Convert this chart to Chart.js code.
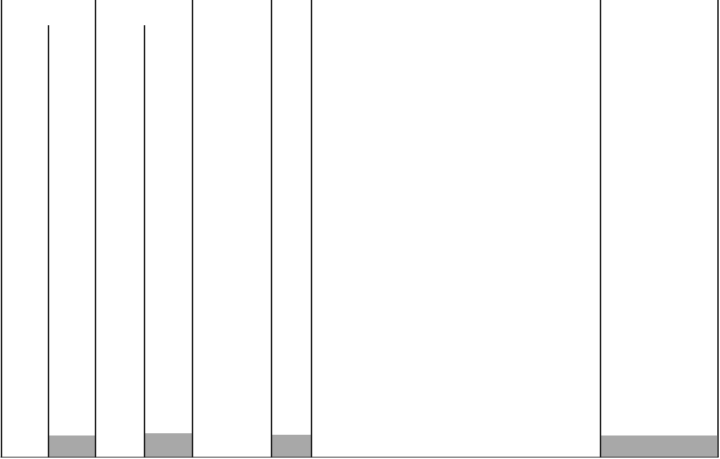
<!DOCTYPE html>
<html>
<head>
<meta charset="utf-8">
<script src="https://cdn.jsdelivr.net/npm/chart.js@4/dist/chart.umd.min.js"></script>
<style>
  html, body { margin: 0; padding: 0; background: #ffffff; }
  #wrap { width: 720px; height: 459px; }
</style>
</head>
<body>
<div id="wrap"><canvas id="c"></canvas></div>
<script>
// Bin edges (x) and the height each edge line reaches (y, % of axis)
const edges = [1.5, 48.5, 95.5, 144.5, 192.5, 271.5, 311.5, 600.5, 718];
const edgeTops = [110, 94.5, 110, 94.5, 110, 110, 110, 110, 110];
// Grey bars: start, end, height
const barStarts = [49, 145, 272, 601];
const barEnds = [95, 192, 311, 717];
const barHeights = [4.8, 5.3, 5.0, 4.8];
const axisStart = 0.5;
const axisEnd = 718.5;

const edgeLineData = [];
edges.forEach((e, i) => {
  edgeLineData.push({ x: e, y: 0 });
  edgeLineData.push({ x: e, y: edgeTops[i] });
  edgeLineData.push({ x: e, y: null });
});

const barData = [];
barStarts.forEach((s, i) => {
  barData.push({ x: s, y: barHeights[i] });
  barData.push({ x: barEnds[i], y: barHeights[i] });
  barData.push({ x: barEnds[i], y: null });
});

new Chart(document.getElementById('c'), {
  type: 'line',
  data: {
    datasets: [
      {
        label: 'bars',
        data: barData,
        borderWidth: 0,
        borderColor: 'rgba(0,0,0,0)',
        backgroundColor: '#a8a8a8',
        fill: 'origin',
        pointRadius: 0,
        spanGaps: false,
        tension: 0,
        order: 2
      },
      {
        label: 'edges',
        data: edgeLineData,
        borderWidth: 1.5,
        borderColor: '#222222',
        fill: false,
        pointRadius: 0,
        spanGaps: false,
        tension: 0,
        order: 1
      },
      {
        label: 'baseline',
        data: [{ x: axisStart, y: 0 }, { x: axisEnd, y: 0 }],
        borderWidth: 1.5,
        borderColor: '#222222',
        fill: false,
        pointRadius: 0,
        order: 0
      }
    ]
  },
  options: {
    responsive: true,
    maintainAspectRatio: false,
    animation: false,
    layout: { padding: { left: 0, right: 0, top: 0, bottom: 1.5 } },
    plugins: { legend: { display: false }, tooltip: { enabled: false } },
    scales: {
      x: { type: 'linear', min: 0, max: 720, display: false },
      y: { type: 'linear', min: 0, max: 100, display: false }
    }
  }
});
</script>
</body>
</html>
